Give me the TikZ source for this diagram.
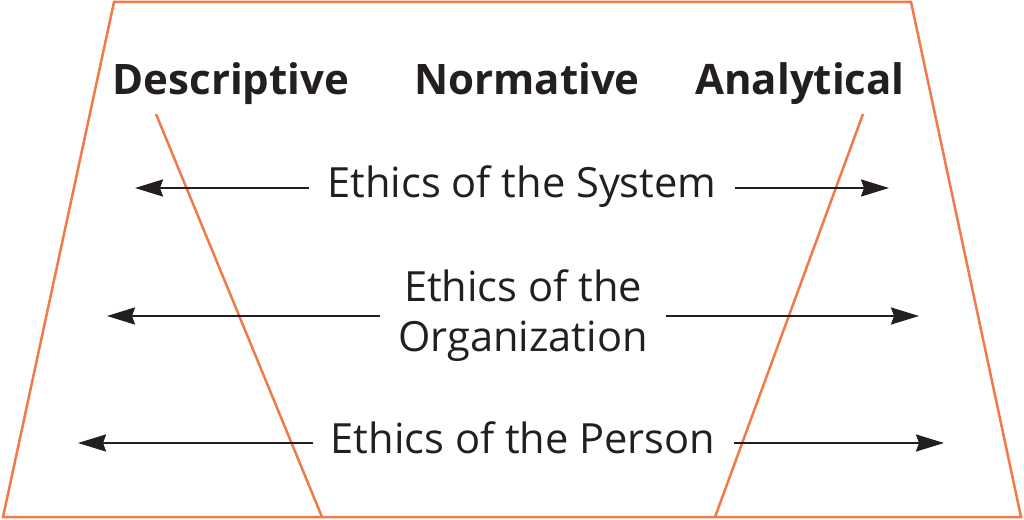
\documentclass[tikz,border=0pt]{standalone}
\usepackage{fontspec}
\setmainfont{Open Sans}
\usetikzlibrary{arrows.meta}
\definecolor{edgeorange}{RGB}{240,122,72}
\definecolor{inkblack}{RGB}{35,31,32}
\begin{document}
\begin{tikzpicture}[x=1pt,y=1pt,
    heading/.style={anchor=base,inner sep=0pt,text=inkblack,font=\fontsize{42}{50}\selectfont\bfseries},
    row/.style={inner xsep=18pt,inner ysep=0pt,text=inkblack,font=\fontsize{41.6}{50}\selectfont,text height=30pt,text depth=10pt},
    rowtwo/.style={inner xsep=18pt,inner ysep=0pt,text=inkblack,align=center,font=\fontsize{41.6}{50}\selectfont},
    frame/.style={edgeorange,line width=2.5pt,line join=miter},
    arr/.style={inkblack,line width=2.2pt,-{Stealth[length=28pt,width=17pt,inset=3pt]}}]
    \useasboundingbox (0,0) rectangle (1024,519);

    % outer trapezoid and the two slanted lines
    \draw[frame] (3,2) -- (114,517) -- (911,517) -- (1021,2) -- cycle;
    \draw[frame] (156,405) -- (322,2);
    \draw[frame] (863,405) -- (715,2);

    \node[heading] (desc) at (231,424) {Descriptive};
    \node[heading] (norm) at (527,424) {Normative};
    \node[heading] (anal) at (800,424) {Analytical};

    \node[row] (sys) at (522,331) {Ethics of the System};
    \node[rowtwo] (org) at (523,203) {Ethics of the\\Organization};
    \node[row] (per) at (523,76) {Ethics of the Person};

    \coordinate (sysl) at (135,331);
    \coordinate (sysr) at (889,331);
    \coordinate (orgl) at (107,203);
    \coordinate (orgr) at (919,203);
    \coordinate (perl) at (78,76);
    \coordinate (perr) at (944,76);

    \draw[arr] (sys.west) -- (sysl);
    \draw[arr] (sys.east) -- (sysr);
    \draw[arr] (org.west) -- (orgl);
    \draw[arr] (org.east) -- (orgr);
    \draw[arr] (per.west) -- (perl);
    \draw[arr] (per.east) -- (perr);

\end{tikzpicture}
\end{document}
